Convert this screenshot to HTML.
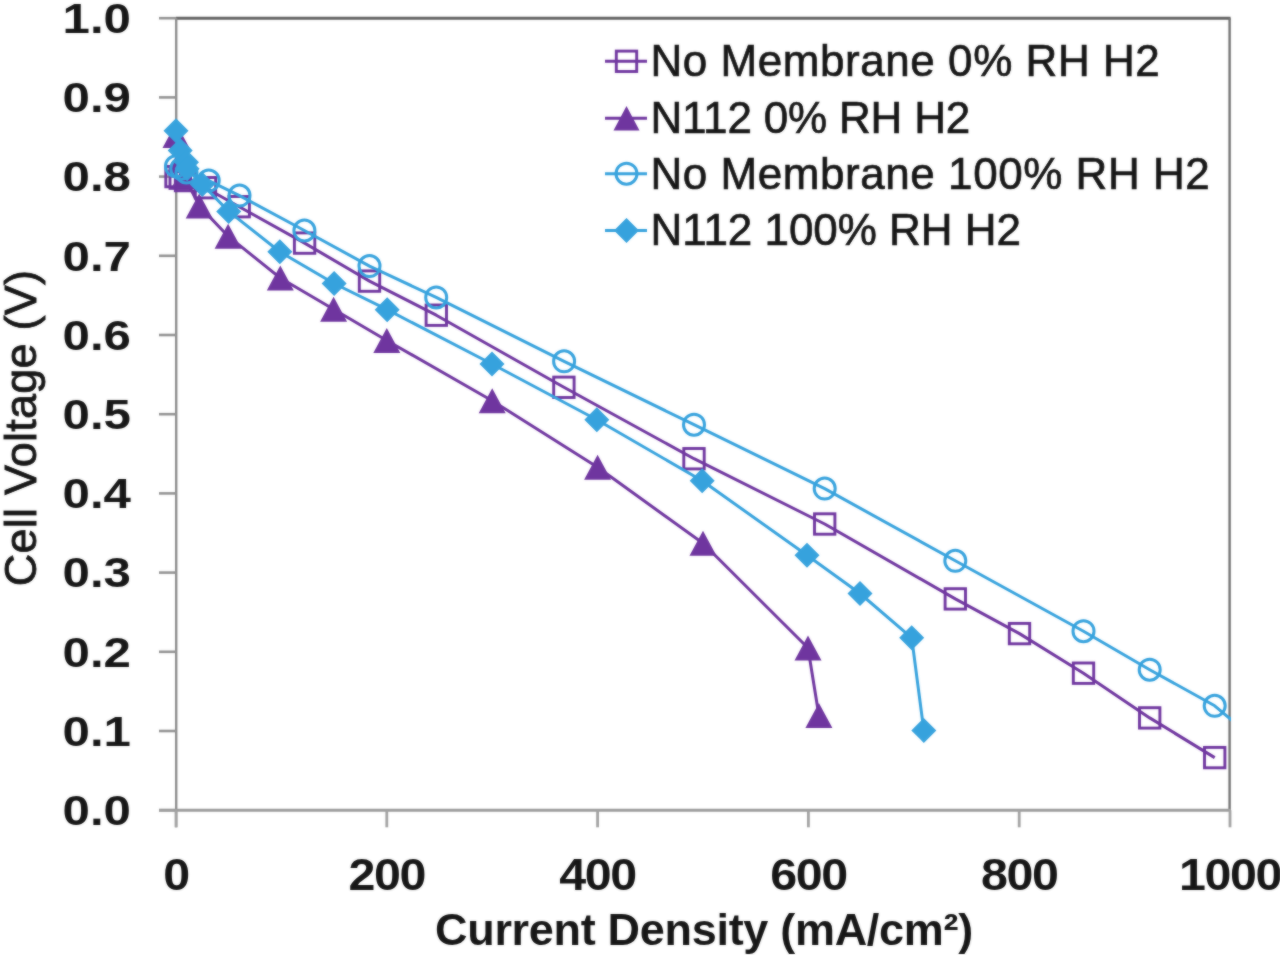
<!DOCTYPE html>
<html><head><meta charset="utf-8"><style>
html,body{margin:0;padding:0;background:#fff;width:1280px;height:955px;overflow:hidden}
svg{display:block}
text{font-family:"Liberation Sans",sans-serif;fill:#161616}
.yl{font-weight:bold;font-size:43px}
.xl{font-weight:bold;font-size:44px;letter-spacing:-1.3px}
.xt{font-weight:bold;font-size:45px;letter-spacing:-0.3px}
.yt{font-size:45px;letter-spacing:0.25px;stroke:#161616;stroke-width:0.8px}
.lg{font-size:44px;letter-spacing:0.55px;stroke:#161616;stroke-width:0.7px}
</style></head><body>
<svg width="1280" height="955" viewBox="0 0 1280 955">
<defs><filter id="soft" filterUnits="userSpaceOnUse" x="0" y="0" width="1280" height="955" color-interpolation-filters="sRGB"><feGaussianBlur in="SourceGraphic" stdDeviation="1" result="b"/><feComposite in="SourceGraphic" in2="b" operator="arithmetic" k1="0" k2="0.5" k3="0.5" k4="0"/></filter><clipPath id="pa"><rect x="0" y="0" width="1231" height="955"/></clipPath></defs>
<rect width="1280" height="955" fill="#fff"/>
<g filter="url(#soft)">
<g><line x1="176" y1="18.2" x2="1230.6" y2="18.2" stroke="#636363" stroke-width="3"/><line x1="1229.6" y1="18.2" x2="1229.6" y2="810.2" stroke="#727272" stroke-width="2.4"/><line x1="176.2" y1="18.2" x2="176.2" y2="827.3" stroke="#8c8c8c" stroke-width="2.4"/><line x1="159" y1="810.2" x2="176.2" y2="810.2" stroke="#929292" stroke-width="2.6"/><line x1="159" y1="731.0" x2="176.2" y2="731.0" stroke="#929292" stroke-width="2.6"/><line x1="159" y1="651.8" x2="176.2" y2="651.8" stroke="#929292" stroke-width="2.6"/><line x1="159" y1="572.6" x2="176.2" y2="572.6" stroke="#929292" stroke-width="2.6"/><line x1="159" y1="493.4" x2="176.2" y2="493.4" stroke="#929292" stroke-width="2.6"/><line x1="159" y1="414.2" x2="176.2" y2="414.2" stroke="#929292" stroke-width="2.6"/><line x1="159" y1="335.0" x2="176.2" y2="335.0" stroke="#929292" stroke-width="2.6"/><line x1="159" y1="255.8" x2="176.2" y2="255.8" stroke="#929292" stroke-width="2.6"/><line x1="159" y1="176.6" x2="176.2" y2="176.6" stroke="#929292" stroke-width="2.6"/><line x1="159" y1="97.4" x2="176.2" y2="97.4" stroke="#929292" stroke-width="2.6"/><line x1="159" y1="18.2" x2="176.2" y2="18.2" stroke="#929292" stroke-width="2.6"/><line x1="159" y1="810.2" x2="1231" y2="810.2" stroke="#9c9c9c" stroke-width="3"/><line x1="176.0" y1="810.2" x2="176.0" y2="827.3" stroke="#a2a2a2" stroke-width="2.8"/><line x1="386.8" y1="810.2" x2="386.8" y2="827.3" stroke="#a2a2a2" stroke-width="2.8"/><line x1="597.6" y1="810.2" x2="597.6" y2="827.3" stroke="#a2a2a2" stroke-width="2.8"/><line x1="808.4" y1="810.2" x2="808.4" y2="827.3" stroke="#a2a2a2" stroke-width="2.8"/><line x1="1019.2" y1="810.2" x2="1019.2" y2="827.3" stroke="#a2a2a2" stroke-width="2.8"/><line x1="1230.0" y1="810.2" x2="1230.0" y2="827.3" stroke="#a2a2a2" stroke-width="2.8"/></g>
<g clip-path="url(#pa)"><polyline points="176.0,176.6 180.2,178.2 185.5,180.6 205.5,187.7 239.2,206.7 304.6,243.1 369.5,281.1 436.3,315.2 563.9,387.3 694.0,458.7 824.7,524.0 955.3,598.9 1019.5,633.6 1083.5,673.2 1149.7,717.9 1214.7,757.6" fill="none" stroke="#6f359f" stroke-width="3" stroke-linejoin="round"/><rect x="165.8" y="166.4" width="20.4" height="20.4" fill="none" stroke="#6f359f" stroke-width="2.9"/><rect x="170.0" y="168.0" width="20.4" height="20.4" fill="none" stroke="#6f359f" stroke-width="2.9"/><rect x="175.3" y="170.4" width="20.4" height="20.4" fill="none" stroke="#6f359f" stroke-width="2.9"/><rect x="195.3" y="177.5" width="20.4" height="20.4" fill="none" stroke="#6f359f" stroke-width="2.9"/><rect x="229.0" y="196.5" width="20.4" height="20.4" fill="none" stroke="#6f359f" stroke-width="2.9"/><rect x="294.4" y="232.9" width="20.4" height="20.4" fill="none" stroke="#6f359f" stroke-width="2.9"/><rect x="359.3" y="270.9" width="20.4" height="20.4" fill="none" stroke="#6f359f" stroke-width="2.9"/><rect x="426.1" y="305.0" width="20.4" height="20.4" fill="none" stroke="#6f359f" stroke-width="2.9"/><rect x="553.7" y="377.1" width="20.4" height="20.4" fill="none" stroke="#6f359f" stroke-width="2.9"/><rect x="683.8" y="448.5" width="20.4" height="20.4" fill="none" stroke="#6f359f" stroke-width="2.9"/><rect x="814.5" y="513.8" width="20.4" height="20.4" fill="none" stroke="#6f359f" stroke-width="2.9"/><rect x="945.1" y="588.7" width="20.4" height="20.4" fill="none" stroke="#6f359f" stroke-width="2.9"/><rect x="1009.3" y="623.4" width="20.4" height="20.4" fill="none" stroke="#6f359f" stroke-width="2.9"/><rect x="1073.3" y="663.0" width="20.4" height="20.4" fill="none" stroke="#6f359f" stroke-width="2.9"/><rect x="1139.5" y="707.7" width="20.4" height="20.4" fill="none" stroke="#6f359f" stroke-width="2.9"/><rect x="1204.5" y="747.4" width="20.4" height="20.4" fill="none" stroke="#6f359f" stroke-width="2.9"/><polyline points="176.0,135.4 180.2,160.8 184.4,176.6 199.2,205.9 228.1,236.2 280.3,278.0 333.6,309.3 386.8,340.5 492.2,400.7 597.6,467.3 703.0,543.3 808.0,648.0 818.9,715.5" fill="none" stroke="#6f359f" stroke-width="3" stroke-linejoin="round"/><path d="M176.0,122.9 L189.5,147.9 L162.5,147.9Z" fill="#6f359f"/><path d="M180.2,148.3 L193.7,173.3 L166.7,173.3Z" fill="#6f359f"/><path d="M184.4,164.1 L197.9,189.1 L170.9,189.1Z" fill="#6f359f"/><path d="M199.2,193.4 L212.7,218.4 L185.7,218.4Z" fill="#6f359f"/><path d="M228.1,223.7 L241.6,248.7 L214.6,248.7Z" fill="#6f359f"/><path d="M280.3,265.5 L293.8,290.5 L266.8,290.5Z" fill="#6f359f"/><path d="M333.6,296.8 L347.1,321.8 L320.1,321.8Z" fill="#6f359f"/><path d="M386.8,328.0 L400.3,353.0 L373.3,353.0Z" fill="#6f359f"/><path d="M492.2,388.2 L505.7,413.2 L478.7,413.2Z" fill="#6f359f"/><path d="M597.6,454.8 L611.1,479.8 L584.1,479.8Z" fill="#6f359f"/><path d="M703.0,530.8 L716.5,555.8 L689.5,555.8Z" fill="#6f359f"/><path d="M808.0,635.5 L821.5,660.5 L794.5,660.5Z" fill="#6f359f"/><path d="M818.9,703.0 L832.4,728.0 L805.4,728.0Z" fill="#6f359f"/><polyline points="176.0,166.3 181.3,168.7 186.5,172.6 208.7,180.6 239.5,195.6 304.4,230.5 369.5,266.1 436.2,297.4 564.1,361.3 694.0,424.7 824.7,488.6 955.3,560.8 1083.5,631.2 1149.7,669.7 1214.7,705.8 1277.4,758.7" fill="none" stroke="#36a2dd" stroke-width="3" stroke-linejoin="round"/><circle cx="176.0" cy="166.3" r="10.5" fill="none" stroke="#36a2dd" stroke-width="3"/><circle cx="181.3" cy="168.7" r="10.5" fill="none" stroke="#36a2dd" stroke-width="3"/><circle cx="186.5" cy="172.6" r="10.5" fill="none" stroke="#36a2dd" stroke-width="3"/><circle cx="208.7" cy="180.6" r="10.5" fill="none" stroke="#36a2dd" stroke-width="3"/><circle cx="239.5" cy="195.6" r="10.5" fill="none" stroke="#36a2dd" stroke-width="3"/><circle cx="304.4" cy="230.5" r="10.5" fill="none" stroke="#36a2dd" stroke-width="3"/><circle cx="369.5" cy="266.1" r="10.5" fill="none" stroke="#36a2dd" stroke-width="3"/><circle cx="436.2" cy="297.4" r="10.5" fill="none" stroke="#36a2dd" stroke-width="3"/><circle cx="564.1" cy="361.3" r="10.5" fill="none" stroke="#36a2dd" stroke-width="3"/><circle cx="694.0" cy="424.7" r="10.5" fill="none" stroke="#36a2dd" stroke-width="3"/><circle cx="824.7" cy="488.6" r="10.5" fill="none" stroke="#36a2dd" stroke-width="3"/><circle cx="955.3" cy="560.8" r="10.5" fill="none" stroke="#36a2dd" stroke-width="3"/><circle cx="1083.5" cy="631.2" r="10.5" fill="none" stroke="#36a2dd" stroke-width="3"/><circle cx="1149.7" cy="669.7" r="10.5" fill="none" stroke="#36a2dd" stroke-width="3"/><circle cx="1214.7" cy="705.8" r="10.5" fill="none" stroke="#36a2dd" stroke-width="3"/><polyline points="176.0,130.7 180.2,150.5 186.5,162.3 187.1,168.7 202.3,184.5 228.7,211.4 279.8,251.8 334.1,283.5 387.2,309.7 492.0,364.0 596.8,419.8 702.2,480.7 807.0,555.3 860.0,593.5 911.7,637.8 923.8,730.4" fill="none" stroke="#36a2dd" stroke-width="3" stroke-linejoin="round"/><path d="M176.0,118.2 L188.5,130.7 L176.0,143.2 L163.5,130.7Z" fill="#36a2dd"/><path d="M180.2,138.0 L192.7,150.5 L180.2,163.0 L167.7,150.5Z" fill="#36a2dd"/><path d="M186.5,149.8 L199.0,162.3 L186.5,174.8 L174.0,162.3Z" fill="#36a2dd"/><path d="M187.1,156.2 L199.6,168.7 L187.1,181.2 L174.6,168.7Z" fill="#36a2dd"/><path d="M202.3,172.0 L214.8,184.5 L202.3,197.0 L189.8,184.5Z" fill="#36a2dd"/><path d="M228.7,198.9 L241.2,211.4 L228.7,223.9 L216.2,211.4Z" fill="#36a2dd"/><path d="M279.8,239.3 L292.3,251.8 L279.8,264.3 L267.3,251.8Z" fill="#36a2dd"/><path d="M334.1,271.0 L346.6,283.5 L334.1,296.0 L321.6,283.5Z" fill="#36a2dd"/><path d="M387.2,297.2 L399.7,309.7 L387.2,322.2 L374.7,309.7Z" fill="#36a2dd"/><path d="M492.0,351.5 L504.5,364.0 L492.0,376.5 L479.5,364.0Z" fill="#36a2dd"/><path d="M596.8,407.3 L609.3,419.8 L596.8,432.3 L584.3,419.8Z" fill="#36a2dd"/><path d="M702.2,468.2 L714.7,480.7 L702.2,493.2 L689.7,480.7Z" fill="#36a2dd"/><path d="M807.0,542.8 L819.5,555.3 L807.0,567.8 L794.5,555.3Z" fill="#36a2dd"/><path d="M860.0,581.0 L872.5,593.5 L860.0,606.0 L847.5,593.5Z" fill="#36a2dd"/><path d="M911.7,625.3 L924.2,637.8 L911.7,650.3 L899.2,637.8Z" fill="#36a2dd"/><path d="M923.8,717.9 L936.3,730.4 L923.8,742.9 L911.3,730.4Z" fill="#36a2dd"/></g>
<g><line x1="605" y1="61.3" x2="647" y2="61.3" stroke="#6f359f" stroke-width="3"/><rect x="616.3" y="51.1" width="20.4" height="20.4" fill="none" stroke="#6f359f" stroke-width="2.9"/><text x="650.5" y="76.1" class="lg" style="letter-spacing:0.55px">No Membrane 0% RH H2</text><line x1="605" y1="118.2" x2="647" y2="118.2" stroke="#6f359f" stroke-width="3"/><path d="M626.5,106.0 L639.5,130.4 L613.5,130.4Z" fill="#6f359f"/><text x="650.5" y="133.0" class="lg" style="letter-spacing:-0.19px">N112 0% RH H2</text><line x1="605" y1="173.7" x2="647" y2="173.7" stroke="#36a2dd" stroke-width="3"/><circle cx="626.5" cy="173.7" r="10.5" fill="none" stroke="#36a2dd" stroke-width="3"/><text x="650.5" y="188.5" class="lg" style="letter-spacing:0.55px">No Membrane 100% RH H2</text><line x1="605" y1="230.4" x2="647" y2="230.4" stroke="#36a2dd" stroke-width="3"/><path d="M626.5,217.9 L639.0,230.4 L626.5,242.9 L614.0,230.4Z" fill="#36a2dd"/><text x="650.5" y="245.2" class="lg" style="letter-spacing:-0.04px">N112 100% RH H2</text></g>
<g><text transform="translate(131,825.0) scale(1.145,1)" text-anchor="end" class="yl">0.0</text><text transform="translate(131,745.8) scale(1.145,1)" text-anchor="end" class="yl">0.1</text><text transform="translate(131,666.6) scale(1.145,1)" text-anchor="end" class="yl">0.2</text><text transform="translate(131,587.4) scale(1.145,1)" text-anchor="end" class="yl">0.3</text><text transform="translate(131,508.2) scale(1.145,1)" text-anchor="end" class="yl">0.4</text><text transform="translate(131,429.0) scale(1.145,1)" text-anchor="end" class="yl">0.5</text><text transform="translate(131,349.8) scale(1.145,1)" text-anchor="end" class="yl">0.6</text><text transform="translate(131,270.6) scale(1.145,1)" text-anchor="end" class="yl">0.7</text><text transform="translate(131,191.4) scale(1.145,1)" text-anchor="end" class="yl">0.8</text><text transform="translate(131,112.2) scale(1.145,1)" text-anchor="end" class="yl">0.9</text><text transform="translate(131,33.0) scale(1.145,1)" text-anchor="end" class="yl">1.0</text><text transform="translate(176.0,890.2) scale(1.1,1)" text-anchor="middle" class="xl">0</text><text transform="translate(386.8,890.2) scale(1.1,1)" text-anchor="middle" class="xl">200</text><text transform="translate(597.6,890.2) scale(1.1,1)" text-anchor="middle" class="xl">400</text><text transform="translate(808.4,890.2) scale(1.1,1)" text-anchor="middle" class="xl">600</text><text transform="translate(1019.2,890.2) scale(1.1,1)" text-anchor="middle" class="xl">800</text><text transform="translate(1230.0,890.2) scale(1.1,1)" text-anchor="middle" class="xl">1000</text><text x="435" y="944.5" class="xt">Current Density (mA/cm²)</text><text transform="translate(36,428) rotate(-90)" text-anchor="middle" class="yt">Cell Voltage (V)</text></g>
</g>
</svg>
</body></html>
